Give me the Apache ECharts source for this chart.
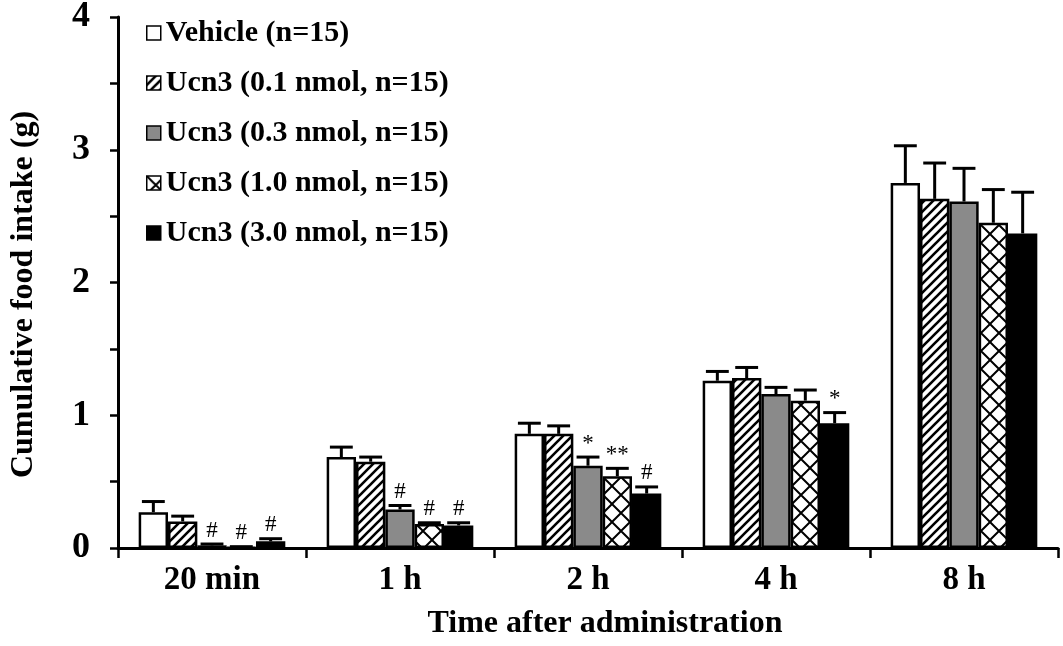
<!DOCTYPE html>
<html>
<head>
<meta charset="utf-8">
<script src="https://cdn.jsdelivr.net/npm/echarts@6/dist/echarts.min.js"></script>
<style>html,body{margin:0;padding:0;background:#fff;}#main{width:1063px;height:646px;}</style>
</head>
<body>
<div id="main"></div>
<script>
const categories = ['20 min', '1 h', '2 h', '4 h', '8 h'];
const seriesNames = ['Vehicle (n=15)', 'Ucn3 (0.1 nmol, n=15)', 'Ucn3 (0.3 nmol, n=15)', 'Ucn3 (1.0 nmol, n=15)', 'Ucn3 (3.0 nmol, n=15)'];
const vehicleMean = [0.27, 0.685, 0.86, 1.26, 2.75];
const vehicleErr  = [0.08, 0.075, 0.08, 0.07, 0.28];
const dose01Mean = [0.20, 0.65, 0.86, 1.28, 2.63];
const dose01Err  = [0.04, 0.035, 0.06, 0.08, 0.27];
const dose03Mean = [0.02, 0.29, 0.62, 1.16, 2.61];
const dose03Err  = [0.01, 0.03, 0.065, 0.05, 0.25];
const dose10Mean = [0.005, 0.18, 0.54, 1.11, 2.45];
const dose10Err  = [0.005, 0.01, 0.06, 0.08, 0.25];
const dose30Mean = [0.05, 0.17, 0.41, 0.94, 2.37];
const dose30Err  = [0.02, 0.02, 0.05, 0.08, 0.31];
const vehicleMarks = ['', '', '', '', ''];
const dose01Marks  = ['', '', '', '', ''];
const dose03Marks  = ['#', '#', '*', '', ''];
const dose10Marks  = ['#', '#', '**', '', ''];
const dose30Marks  = ['#', '#', '#', '*', ''];
const yTicks = ['0', '1', '2', '3', '4'];

const means = [vehicleMean, dose01Mean, dose03Mean, dose10Mean, dose30Mean];
const errs = [vehicleErr, dose01Err, dose03Err, dose10Err, dose30Err];
const marks = [vehicleMarks, dose01Marks, dose03Marks, dose10Marks, dose30Marks];

function hatchCanvas() {
  const s = 9, c = document.createElement('canvas');
  c.width = s; c.height = s;
  const g = c.getContext('2d');
  g.fillStyle = '#fff'; g.fillRect(0, 0, s, s);
  g.strokeStyle = '#000'; g.lineWidth = 2.6; g.lineCap = 'square';
  g.beginPath();
  g.moveTo(-2, s + 2); g.lineTo(s + 2, -2);
  g.moveTo(-2, 2); g.lineTo(2, -2);
  g.moveTo(s - 2, s + 2); g.lineTo(s + 2, s - 2);
  g.stroke();
  return c;
}
function crossCanvas() {
  const s = 18, c = document.createElement('canvas');
  c.width = s; c.height = s;
  const g = c.getContext('2d');
  g.fillStyle = '#fff'; g.fillRect(0, 0, s, s);
  g.strokeStyle = '#000'; g.lineWidth = 2;
  g.beginPath();
  g.moveTo(-1, -1); g.lineTo(s + 1, s + 1);
  g.moveTo(-1, s + 1); g.lineTo(s + 1, -1);
  g.stroke();
  return c;
}
const fills = [
  '#ffffff',
  { image: hatchCanvas(), repeat: 'repeat' },
  '#8a8a8a',
  { image: crossCanvas(), repeat: 'repeat' },
  '#000000'
];

const GAP = 0.22;
const serif = '"Liberation Serif", "Times New Roman", serif';

const series = [];
seriesNames.forEach((name, i) => {
  series.push({
    name: name,
    type: 'bar',
    data: means[i],
    barGap: '0%',
    barCategoryGap: (GAP * 100) + '%',
    itemStyle: { color: fills[i], borderColor: '#000', borderWidth: 2.5 },
    emphasis: { disabled: true },
    z: 2
  });
});
seriesNames.forEach((name, i) => {
  series.push({
    type: 'custom',
    name: name + ' err',
    z: 3,
    silent: true,
    data: means[i].map((v, k) => [k, v, errs[i][k]]),
    renderItem: function (params, api) {
      const k = api.value(0), v = api.value(1), e = api.value(2);
      const base = api.coord([k, v]);
      const top = api.coord([k, v + e]);
      const band = api.size([1, 0])[0];
      const bw = band * (1 - GAP) / 5;
      const x = base[0] + (i - 2) * bw;
      const cw = bw * 0.78;
      const children = [
        { type: 'line', shape: { x1: x, y1: base[1], x2: x, y2: top[1] }, style: { stroke: '#000', lineWidth: 3 } },
        { type: 'line', shape: { x1: x - cw / 2, y1: top[1], x2: x + cw / 2, y2: top[1] }, style: { stroke: '#000', lineWidth: 3 } }
      ];
      const m = marks[i][params.dataIndex];
      if (m) {
        children.push({ type: 'text', x: x, y: top[1] - 2, style: { text: m, fill: '#000', font: '23px ' + serif, textAlign: 'center', textVerticalAlign: 'bottom' } });
      }
      return { type: 'group', children: children };
    }
  });
});

const chart = echarts.init(document.getElementById('main'), null, { renderer: 'canvas' });
chart.setOption({
  animation: false,
  backgroundColor: '#fff',
  textStyle: { fontFamily: serif },
  grid: { left: 118, right: 5, top: 17, bottom: 98, containLabel: false, outerBoundsMode: 'none' },
  legend: {
    data: seriesNames,
    orient: 'vertical',
    left: 141, top: 10,
    icon: 'rect',
    itemWidth: 14, itemHeight: 14,
    itemGap: 14,
    itemStyle: { borderColor: '#000', borderWidth: 1.5 },
    textStyle: { fontFamily: serif, fontWeight: 'bold', fontSize: 30, color: '#000', lineHeight: 36 },
    selectedMode: false
  },
  xAxis: {
    type: 'category',
    data: categories,
    name: 'Time after administration',
    nameLocation: 'middle',
    nameGap: 60,
    nameTextStyle: { fontFamily: serif, fontWeight: 'bold', fontSize: 32, color: '#000', padding: [0, 0, 0, 34] },
    axisLine: { lineStyle: { color: '#000', width: 3 } },
    axisTick: { show: true, length: 10, lineStyle: { color: '#000', width: 2.5 } },
    axisLabel: { fontFamily: serif, fontWeight: 'bold', fontSize: 33, color: '#000', margin: 16 }
  },
  yAxis: {
    type: 'value',
    min: 0, max: 4, interval: 0.5,
    name: 'Cumulative food intake (g)',
    nameLocation: 'middle',
    nameGap: 78,
    nameTextStyle: { fontFamily: serif, fontWeight: 'bold', fontSize: 32, color: '#000', padding: [0, 24, 0, 0] },
    axisLine: { show: true, lineStyle: { color: '#000', width: 3 } },
    axisTick: { show: true, length: 8, lineStyle: { color: '#000', width: 2.5 } },
    splitLine: { show: false },
    axisLabel: {
      fontFamily: serif, fontWeight: 'bold', fontSize: 36, color: '#000', margin: 28,
      formatter: function (v) { return (Math.abs(v - Math.round(v)) < 1e-9) ? yTicks[Math.round(v)] : ''; }
    }
  },
  series: series
});
</script>
</body>
</html>
